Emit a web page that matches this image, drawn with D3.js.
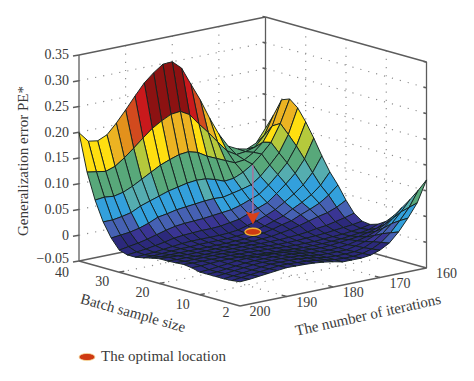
<!DOCTYPE html>
<html>
<head>
<meta charset="utf-8">
<script src="https://cdn.jsdelivr.net/npm/d3@7/dist/d3.min.js"></script>
<style>
    html, body { margin: 0; padding: 0; background: #fff; }
    text { font-family: "Liberation Serif", serif; fill: #3a3a3a; }
</style>
</head>
<body>
<div id="chart"></div>
<script>
// tick labels
const batchTicks = [40, 30, 20, 10, 2];
const iterTicks = [200, 190, 180, 170, 160];
const errorTicks = [-0.05, 0, 0.05, 0.10, 0.15, 0.20, 0.25, 0.30, 0.35];

// mesh positions
const batchSizes = [40, 38, 36, 34, 32, 30, 28, 26, 24, 22, 20, 18, 16, 14, 12, 10, 8.4, 6.8, 5.2, 3.6, 2];
const iterations = [200, 198, 196, 194, 192, 190, 188, 186, 184, 182, 180, 178, 176, 174, 172, 170, 168, 166, 164, 162, 160];

// generalization error, one row per batch size, one column per iteration count
const errorRows = [
    [.199,.179,.176,.184,.203,.225,.248,.270,.286,.299,.300,.284,.249,.215,.176,.141,.114,.105,.101,.109,.134],
    [.127,.124,.121,.127,.140,.155,.171,.186,.197,.206,.208,.198,.176,.156,.134,.113,.102,.104,.109,.128,.164],
    [.077,.079,.077,.081,.089,.099,.109,.119,.126,.132,.134,.129,.118,.110,.102,.094,.096,.107,.123,.151,.198],
    [.039,.039,.042,.046,.055,.061,.067,.073,.077,.081,.083,.082,.077,.070,.072,.080,.092,.108,.127,.160,.204],
    [.012,.014,.016,.020,.026,.034,.037,.041,.043,.045,.047,.048,.047,.051,.055,.060,.073,.091,.111,.143,.191],
    [-.007,-.004,-.001,.003,.008,.013,.017,.019,.020,.021,.023,.025,.027,.032,.039,.046,.060,.077,.096,.125,.168],
    [-.012,-.010,-.008,-.005,-.002,.002,.004,.005,.006,.006,.007,.010,.013,.020,.027,.034,.048,.063,.080,.104,.141],
    [-.012,-.011,-.010,-.008,-.006,-.004,-.003,-.003,-.003,-.003,-.002,.000,.005,.010,.017,.025,.036,.048,.062,.082,.111],
    [-.009,-.009,-.008,-.007,-.006,-.006,-.005,-.005,-.005,-.005,-.004,-.002,.000,.005,.011,.017,.027,.036,.047,.062,.084],
    [-.005,-.006,-.006,-.006,-.006,-.006,-.006,-.006,-.006,-.005,-.005,-.003,-.001,.003,.008,.012,.020,.027,.035,.047,.063],
    [-.002,-.003,-.004,-.005,-.005,-.005,-.005,-.005,-.005,-.005,-.005,-.004,-.003,.000,.003,.007,.012,.017,.021,.028,.038],
    [-.002,-.003,-.003,-.004,-.004,-.004,-.004,-.004,-.004,-.004,-.005,-.005,-.005,-.004,-.003,-.001,.002,.004,.008,.012,.017],
    [-.001,-.002,-.002,-.002,-.002,-.002,-.003,-.003,-.003,-.004,-.005,-.006,-.006,-.006,-.005,-.004,-.003,-.001,.001,.003,.006],
    [.000,-.001,-.001,-.001,-.001,-.001,-.002,-.002,-.003,-.004,-.005,-.006,-.007,-.007,-.007,-.006,-.005,-.004,-.002,.000,.004],
    [-.002,-.002,-.001,.000,.000,.000,-.001,-.002,-.003,-.004,-.005,-.006,-.007,-.007,-.007,-.006,-.005,-.003,-.001,.002,.009],
    [-.006,-.005,-.003,-.001,.001,.002,.001,.001,.000,-.001,-.003,-.005,-.006,-.007,-.006,-.004,-.002,.000,.004,.009,.019],
    [-.006,-.005,-.003,-.001,.001,.002,.002,.002,.001,.000,-.002,-.005,-.006,-.007,-.006,-.004,.000,.004,.011,.021,.035],
    [-.006,-.004,-.002,.000,.002,.003,.003,.003,.002,.001,-.002,-.005,-.006,-.006,-.006,-.002,.003,.011,.022,.037,.055],
    [-.006,-.004,-.002,.000,.002,.004,.004,.004,.003,.001,-.002,-.005,-.006,-.006,-.005,-.001,.007,.019,.035,.054,.075],
    [-.005,-.003,-.001,.001,.003,.005,.005,.004,.003,.001,-.002,-.005,-.006,-.006,-.004,.001,.010,.025,.045,.067,.097],
    [-.003,-.002,.000,.002,.004,.006,.0055,.005,.004,.002,-.001,-.005,-.005,-.005,-.003,.003,.013,.031,.054,.080,.121]
];

// the optimal location: iterations, batch size, error, top of the arrow
const optimal = [176, 24.6, -0.004, 0.126];
const optimalLabel = 'The optimal location';

// colour bands of the surface
const bandLimits = [.008, .018, .036, .065, .085, .125, .14, .16, .18, .195, .21, .23];
const bandColors = ['#2c297c', '#3a3594', '#4661b3', '#33a0dc', '#55adb0', '#58a87a', '#b5c93c',
    '#ffdf10', '#ecb322', '#e3911c', '#d24a1e', '#c9191c', '#8c1212'];

const width = 474;
const height = 381;

// corners of the box floor, left / back / front, and its height
const left = {x: 79, y: 261};
const back = {x: 265.5, y: 223};
const front = {x: 240, y: 306};
const boxHeight = 206;

// setting up scales
const scaleIter = d3.scaleLinear().domain([200, 160]).range([0, 1]);
const scaleBatch = d3.scaleLinear().domain(batchTicks).range([0, .25, .5, .75, 1]);
const scaleError = d3.scaleLinear().domain([-0.05, 0.35]).range([0, boxHeight]);
const scaleColor = d3.scaleThreshold().domain(bandLimits).range(bandColors);

// oblique projection of (iterations, batch, error) on to the page
function project(iter, batch, err) {
    const u = scaleIter(iter);
    const v = scaleBatch(batch);
    return [
        left.x + u * (back.x - left.x) + v * (front.x - left.x),
        left.y + u * (back.y - left.y) + v * (front.y - left.y) - scaleError(err)
    ];
}

const zMin = -0.05;
const zMax = 0.35;
const iterBack = 160;
const iterFront = 200;
const batchBack = 40;
const batchFront = 2;

const svg = d3.select('#chart')
    .append('svg')
    .attr('width', width)
    .attr('height', height)
    .style('display', 'block');

const segment = (a, b) => `M${a[0]},${a[1]}L${b[0]},${b[1]}`;

// dotted grid on the two back walls and the floor
const gridLines = [];
errorTicks.slice(1, -1).forEach(z => {
    gridLines.push([project(iterFront, batchBack, z), project(iterBack, batchBack, z)]);
    gridLines.push([project(iterBack, batchBack, z), project(iterBack, batchFront, z)]);
});
iterTicks.slice(1, -1).forEach(t => {
    gridLines.push([project(t, batchBack, zMin), project(t, batchBack, zMax)]);
    gridLines.push([project(t, batchBack, zMin), project(t, batchFront, zMin)]);
});
batchTicks.slice(1, -1).forEach(b => {
    gridLines.push([project(iterBack, b, zMin), project(iterBack, b, zMax)]);
    gridLines.push([project(iterBack, b, zMin), project(iterFront, b, zMin)]);
});

svg.append('g')
    .selectAll('path')
    .data(gridLines)
    .enter()
    .append('path')
    .attr('d', d => segment(d[0], d[1]))
    .style('fill', 'none')
    .style('stroke', '#8a8a8a')
    .style('stroke-width', 1.1)
    .style('stroke-dasharray', '1.2 7');

// box frame
const frameLines = [
    [project(iterFront, batchBack, zMin), project(iterFront, batchBack, zMax)],
    [project(iterFront, batchBack, zMax), project(iterBack, batchBack, zMax)],
    [project(iterBack, batchBack, zMax), project(iterBack, batchFront, zMax)],
    [project(iterBack, batchFront, zMax), project(iterBack, batchFront, zMin)],
    [project(iterBack, batchBack, zMax), project(iterBack, batchBack, zMin)],
    [project(iterFront, batchBack, zMin), project(iterBack, batchBack, zMin)],
    [project(iterBack, batchBack, zMin), project(iterBack, batchFront, zMin)],
    [project(iterFront, batchBack, zMin), project(iterFront, batchFront, zMin)],
    [project(iterFront, batchFront, zMin), project(iterBack, batchFront, zMin)]
];

svg.append('g')
    .selectAll('path')
    .data(frameLines)
    .enter()
    .append('path')
    .attr('d', d => segment(d[0], d[1]))
    .style('fill', 'none')
    .style('stroke', '#5c5c5c')
    .style('stroke-width', 1.3);

// tick marks
const tickLines = [];
errorTicks.forEach(z => {
    const p = project(iterFront, batchBack, z);
    tickLines.push([[p[0] - 6, p[1] + 1], p]);
    const q = project(iterBack, batchBack, z);
    tickLines.push([q, [q[0] - 3, q[1] - 0.5]]);
    const r = project(iterBack, batchFront, z);
    tickLines.push([r, [r[0] - 3, r[1] - 0.5]]);
});
batchTicks.slice(1, -1).forEach(b => {
    const p = project(iterFront, b, zMin);
    tickLines.push([p, [p[0] + 5, p[1] - 1]]);
});
iterTicks.slice(1, -1).forEach(t => {
    const p = project(t, batchFront, zMin);
    tickLines.push([p, [p[0] - 5, p[1] - 1.4]]);
});

svg.append('g')
    .selectAll('path')
    .data(tickLines)
    .enter()
    .append('path')
    .attr('d', d => segment(d[0], d[1]))
    .style('stroke', '#5c5c5c')
    .style('stroke-width', 1.3);

// surface faces, back to front
const faces = [];
for (let c = iterations.length - 2; c >= 0; c--) {
    for (let r = 0; r < batchSizes.length - 1; r++) {
        const corners = [[r, c], [r, c + 1], [r + 1, c + 1], [r + 1, c]];
        faces.push({
            points: corners.map(k => project(iterations[k[1]], batchSizes[k[0]], errorRows[k[0]][k[1]])),
            value: d3.mean(corners, k => errorRows[k[0]][k[1]])
        });
    }
}

svg.append('g')
    .attr('class', 'surface')
    .selectAll('path')
    .data(faces)
    .enter()
    .append('path')
    .attr('d', d => 'M' + d.points.join('L') + 'Z')
    .style('fill', d => scaleColor(d.value))
    .style('stroke', '#14211f')
    .style('stroke-width', 0.95)
    .style('stroke-linejoin', 'round');

// arrow down to the optimal location
const arrowTop = project(optimal[0], optimal[1], optimal[3]);
const arrowTip = project(optimal[0], optimal[1], optimal[2]);
arrowTip[1] -= 7.5;

svg.append('path')
    .attr('d', segment(arrowTop, [arrowTip[0], arrowTip[1] - 10]))
    .style('stroke', '#b0709a')
    .style('stroke-width', 1.4);

svg.append('path')
    .attr('d', `M${arrowTip[0]},${arrowTip[1]}l-7,-12.5l7,2l7,-2Z`)
    .style('fill', '#d8401a');

// optimal location marker
const optimalPoint = project(optimal[0], optimal[1], optimal[2]);
svg.append('ellipse')
    .attr('cx', optimalPoint[0])
    .attr('cy', optimalPoint[1])
    .attr('rx', 8)
    .attr('ry', 3.6)
    .style('fill', '#cf3a12')
    .style('stroke', '#f0b535')
    .style('stroke-width', 1.3);

// tick labels
svg.append('g')
    .selectAll('text')
    .data(errorTicks)
    .enter()
    .append('text')
    .attr('x', d => project(iterFront, batchBack, d)[0] - 10)
    .attr('y', d => project(iterFront, batchBack, d)[1] - (d === zMin ? 2 : 0))
    .attr('dy', '0.32em')
    .attr('text-anchor', 'end')
    .style('font-size', '14px')
    .text(d => d === 0 ? '0' : d3.format('.2f')(d));

svg.append('g')
    .selectAll('text')
    .data(batchTicks)
    .enter()
    .append('text')
    .attr('x', d => project(iterFront, d, zMin)[0] + (d === 2 ? -14 : -17))
    .attr('y', d => project(iterFront, d, zMin)[1] + (d === 40 ? 12 : d === 2 ? 7 : 9.5))
    .attr('dy', '0.32em')
    .attr('text-anchor', 'middle')
    .style('font-size', '14px')
    .text(d => d);

svg.append('g')
    .selectAll('text')
    .data(iterTicks)
    .enter()
    .append('text')
    .attr('x', d => project(d, batchFront, zMin)[0] + 20)
    .attr('y', d => project(d, batchFront, zMin)[1] + 6)
    .attr('dy', '0.32em')
    .attr('text-anchor', 'middle')
    .style('font-size', '14px')
    .text(d => d);

// axis titles
svg.append('text')
    .attr('transform', 'translate(133,313) rotate(15.7)')
    .attr('dy', '0.32em')
    .attr('text-anchor', 'middle')
    .style('font-size', '15px')
    .text('Batch sample size');

svg.append('text')
    .attr('transform', 'translate(368,315) rotate(-12.5)')
    .attr('dy', '0.32em')
    .attr('text-anchor', 'middle')
    .style('font-size', '15px')
    .text('The number of iterations');

svg.append('text')
    .attr('transform', 'translate(23,161) rotate(-90)')
    .attr('dy', '0.32em')
    .attr('text-anchor', 'middle')
    .style('font-size', '15px')
    .text('Generalization error PE*');

// legend
svg.append('ellipse')
    .attr('cx', 87)
    .attr('cy', 357)
    .attr('rx', 8)
    .attr('ry', 3.6)
    .style('fill', '#cf3a12')
    .style('stroke', '#f7dfa0')
    .style('stroke-width', 0.8);

svg.append('text')
    .attr('x', 101)
    .attr('y', 356)
    .attr('dy', '0.32em')
    .style('font-size', '15px')
    .text(optimalLabel);
</script>
</body>
</html>
